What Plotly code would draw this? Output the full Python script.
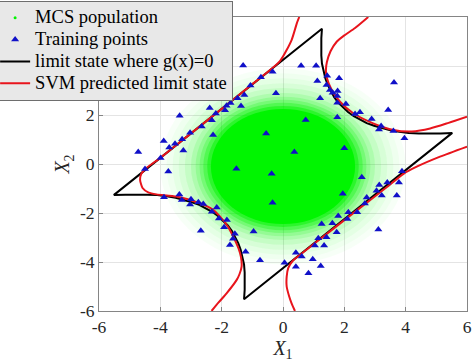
import plotly.graph_objects as go

# ---------------- data ----------------
TICK_VALUES = [-6, -4, -2, 0, 2, 4, 6]
TICK_LABELS = ["-6", "-4", "-2", "0", "2", "4", "6"]

# MCS population cloud: centre, visible rings (radius) and how densely green each ring looks
CLOUD_CENTER = (0.0, -0.1)
CLOUD_RADII = [4.0, 3.8, 3.6, 3.4, 3.2, 3.0, 2.85, 2.72, 2.6, 2.47, 2.35]
CLOUD_DENSITY = [0.03, 0.06, 0.10, 0.15, 0.22, 0.31, 0.41, 0.53, 0.67, 0.82, 1.0]

# training points
TRAIN_X1 = [-1.30, -1.06, -1.26, -1.48, -1.71, -1.84, -2.39, -2.19, -1.89, -1.37,
            -3.37, -2.32, -2.65, -3.03, -2.28, -3.29, -3.89, -3.52, -3.71, -3.25,
            -3.99, -4.72, -3.74, -4.50, -0.34, -0.72, -0.23, 0.59, 1.08,
            1.44, 1.83, 1.12, 1.42, 1.53, 1.78, 1.62, 1.77, 1.21, 1.77,
            2.05, 3.62, 2.35, 2.51, 1.77, 2.89, 3.43, 3.20, 3.13, 3.60,
            3.96, 2.00,
            -0.55, 0.74, 0.37, -0.37, -1.52, -0.34, 1.95, 2.57, 3.88,
            -3.88, -3.38, -3.30, -3.03, -3.00, -2.76, -2.60, -2.16, -2.32, -2.09,
            -1.83, -1.92, -2.68, -1.57, -1.63, -0.96, -1.73, -1.22, -0.75, 0.05,
            3.14, 3.40, 3.78, 3.05, 3.22, 3.71, 2.73, 2.67, 2.13, 2.42,
            1.80, 2.10, 1.61, 1.26, 1.75, 1.42, 1.15, 1.04, 1.34, 3.11,
            0.42, 0.61, 0.97, 0.42, 1.23, 0.83]
TRAIN_X2 = [4.02, 3.20, 2.82, 2.68, 2.49, 2.38, 2.29, 2.06, 2.19, 2.37,
            1.97, 1.79, 1.53, 1.28, 1.18, 1.01, 0.94, 0.83, 0.67, 0.55,
            0.25, 0.49, -0.31, -0.20, 3.77, 3.54, 2.89, 4.01, 4.01,
            3.60, 3.50, 3.39, 3.22, 3.02, 2.98, 2.91, 2.78, 2.68, 2.50,
            2.45, 3.33, 2.04, 2.11, 1.91, 1.84, 2.20, 1.55, 1.41, 1.35,
            1.05, 0.64,
            1.24, 1.80, 0.49, -0.40, -0.19, -1.58, -1.21, -0.54, -0.30,
            -1.36, -1.24, -1.47, -1.65, -1.44, -1.56, -1.63, -1.78, -1.95, -2.22,
            -2.29, -2.58, -2.72, -2.85, -3.05, -2.76, -3.31, -3.58, -3.93, -4.03,
            -0.86, -0.75, -0.75, -1.09, -1.29, -1.29, -1.37, -1.61, -1.97, -1.97,
            -2.12, -2.24, -2.42, -2.45, -2.79, -2.99, -3.03, -3.33, -3.33, -2.67,
            -3.62, -3.78, -3.89, -4.19, -4.16, -4.46]

# true limit state g(x)=0 (closed loop)
LIMIT_X1 = [-5.52,
            1.27, 1.25, 1.24, 1.25, 1.27, 1.32, 1.38, 1.46, 1.56, 1.67, 1.80, 1.95,
            2.12, 2.31, 2.51, 2.73, 2.97, 3.23, 3.50, 3.79, 4.10, 4.43, 4.77, 5.14, 5.52,
            -1.27, -1.25, -1.24, -1.25, -1.27, -1.32, -1.38, -1.46, -1.56, -1.67, -1.80, -1.95,
            -2.12, -2.31, -2.51, -2.73, -2.97, -3.23, -3.50, -3.79, -4.10, -4.43, -4.77, -5.14, -5.52]
LIMIT_X2 = [-1.27,
            5.52, 5.14, 4.77, 4.43, 4.10, 3.79, 3.50, 3.23, 2.97, 2.73, 2.51, 2.31,
            2.12, 1.95, 1.80, 1.67, 1.56, 1.46, 1.38, 1.32, 1.27, 1.25, 1.24, 1.25, 1.27,
            -5.52, -5.14, -4.77, -4.43, -4.10, -3.79, -3.50, -3.23, -2.97, -2.73, -2.51, -2.31,
            -2.12, -1.95, -1.80, -1.67, -1.56, -1.46, -1.38, -1.32, -1.27, -1.25, -1.24, -1.25, -1.27]

# SVM predicted limit state: three branches
SVM_A_X1 = [0.53, 0.45, 0.28, -0.10, -1.0, -2.0, -3.0, -4.0, -4.45, -4.62, -4.66, -4.58,
            -4.38, -4.12, -3.47, -2.71, -2.30, -2.05, -1.80, -1.62, -1.45, -1.37, -1.35,
            -1.42, -1.51, -1.84, -2.10, -2.33]
SVM_A_X2 = [6.0, 5.74, 5.06, 4.20, 3.26, 2.25, 1.25, 0.25, -0.16, -0.40, -0.65, -0.98,
            -1.17, -1.24, -1.33, -1.60, -1.85, -2.15, -2.55, -2.97, -3.45, -3.80, -4.19,
            -4.50, -4.73, -5.28, -5.65, -6.0]
SVM_B_X1 = [2.78, 2.35, 2.0, 1.75, 1.55, 1.43, 1.40, 1.42, 1.59, 1.86, 2.29, 2.94,
            3.60, 4.20, 4.80, 5.40, 6.0]
SVM_B_X2 = [6.0, 5.55, 5.25, 4.99, 4.6, 4.15, 3.84, 3.56, 3.02, 2.54, 2.07, 1.66,
            1.39, 1.33, 1.45, 1.68, 1.93]
SVM_C_X1 = [6.0, 5.12, 4.36, 3.93, 3.40, 2.50, 1.50, 0.60, 0.32, 0.17, 0.12, 0.12,
            0.20, 0.28, 0.39]
SVM_C_X2 = [0.71, 0.30, -0.11, -0.40, -0.93, -1.80, -2.78, -3.66, -3.95, -4.25, -4.60,
            -5.0, -5.40, -5.69, -6.0]

LEGEND_NAMES = ["MCS population", "Training points",
                "limit state where g(x)=0", "SVM predicted limit state"]

# ---------------- figure ----------------
SERIF = "Liberation Serif"
GREEN = "0,245,0"


def legend_label(text):
    return f'<span style="font-size:18.5px">{text}</span>'


fig = go.Figure()

# cloud rings drawn outer -> inner; alpha of each ring so stacked density matches
shapes = []
cx, cy = CLOUD_CENTER
prev = 0.0
for r, c in zip(CLOUD_RADII, CLOUD_DENSITY):
    a = 1.0 if c >= 1.0 else 1.0 - (1.0 - c) / (1.0 - prev)
    prev = c
    shapes.append(dict(type="circle", xref="x", yref="y",
                       x0=cx - r, x1=cx + r, y0=cy - r, y1=cy + r,
                       fillcolor=f"rgba({GREEN},{a:.3f})", line=dict(width=0),
                       layer="between"))

# legend-only entry for the MCS population
fig.add_trace(go.Scatter(x=[None], y=[None], mode="markers",
                         name=legend_label(LEGEND_NAMES[0]),
                         marker=dict(color=f"rgb({GREEN})", size=3), legendrank=1))

fig.add_trace(go.Scatter(x=LIMIT_X1, y=LIMIT_X2, mode="lines",
                         name=legend_label(LEGEND_NAMES[2]),
                         line=dict(color="black", width=2), legendrank=3))

svm_x = SVM_A_X1 + [None] + SVM_B_X1 + [None] + SVM_C_X1
svm_y = SVM_A_X2 + [None] + SVM_B_X2 + [None] + SVM_C_X2
fig.add_trace(go.Scatter(x=svm_x, y=svm_y, mode="lines", connectgaps=False,
                         name=legend_label(LEGEND_NAMES[3]),
                         line=dict(color="#e8141c", width=2, shape="spline", smoothing=0.6),
                         legendrank=4))

fig.add_trace(go.Scatter(x=TRAIN_X1, y=TRAIN_X2, mode="markers",
                         name=legend_label(LEGEND_NAMES[1]),
                         marker=dict(symbol="triangle-up", color="#1010c8", size=7,
                                     line=dict(width=0)),
                         legendrank=2))

axis_common = dict(range=[-6, 6], tickvals=TICK_VALUES, ticktext=TICK_LABELS,
                   showgrid=True, gridcolor="#e4e4e4", gridwidth=1,
                   zeroline=False, showline=True, linecolor="#858585", linewidth=1,
                   mirror=True, ticks="inside", ticklen=4, tickcolor="#858585",
                   automargin=False,
                   tickfont=dict(family=SERIF, size=17.5, color="#262626"))

fig.update_layout(
    width=474, height=362,
    margin=dict(l=99, r=7, t=17, b=51, autoexpand=False),
    paper_bgcolor="white", plot_bgcolor="white",
    shapes=shapes,
    xaxis=dict(**axis_common,
               title=dict(text="<i>X</i><sub>1</sub>", standoff=0,
                          font=dict(family=SERIF, size=20, color="#262626"))),
    yaxis=dict(**axis_common,
               title=dict(text="<i>X</i><sub>2</sub>", standoff=4,
                          font=dict(family=SERIF, size=20, color="#262626"))),
    legend=dict(x=-0.285, y=1.055, xanchor="left", yanchor="top",
                bgcolor="#e8e8e8", bordercolor="#6e6e6e", borderwidth=1,
                font=dict(family=SERIF, size=14.5, color="black"),
                tracegroupgap=0, itemwidth=30),
    showlegend=True,
)

fig.write_html("out.html", config={"displayModeBar": False},
               post_script="document.body.style.margin='0';document.body.style.padding='0';")
